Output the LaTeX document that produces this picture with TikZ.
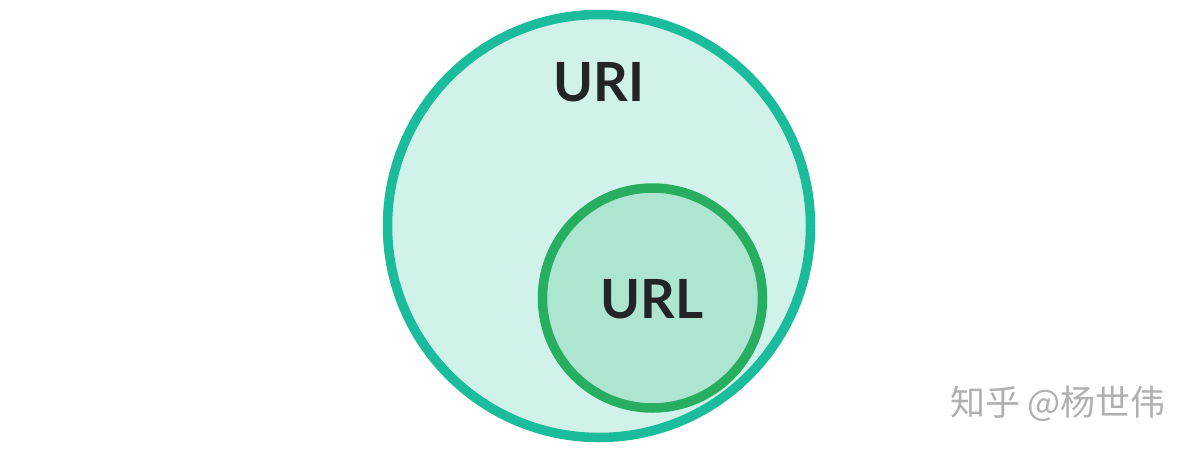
\documentclass[tikz,border=0pt]{standalone}
\usepackage{fontspec}
\setmainfont{Lato}
\newfontfamily\cjkfont{Noto Sans CJK SC}
\definecolor{outerline}{HTML}{1ABC9C}
\definecolor{outerfill}{HTML}{D1F2EA}
\definecolor{innerline}{HTML}{27AE60}
\definecolor{innerfill}{HTML}{AEE5D0}
\definecolor{txt}{HTML}{222426}
\definecolor{wm}{HTML}{B0B0B0}
\tikzset{
  setcircle/.style={line width=9.5pt},
  biglabel/.style={font=\fontsize{54}{60}\selectfont\bfseries, text=txt, inner sep=0pt},
}
\begin{document}
\begin{tikzpicture}[x=1pt,y=-1pt]
\useasboundingbox[fill=white] (0,0) rectangle (1200,453);
\draw[setcircle, draw=outerline, fill=outerfill] (599,226) circle[radius=211.5pt];
\draw[setcircle, draw=innerline, fill=innerfill] (652.5,298) circle[radius=110pt];
\node[biglabel] (uri) at (599,82) {URI};
\node[biglabel] (url) at (652,299) {URL};
\node[font=\cjkfont\fontsize{35}{40}\selectfont, text=wm, inner sep=0pt] (wmark) at (1058,404) {知乎 @杨世伟};
\end{tikzpicture}
\end{document}
